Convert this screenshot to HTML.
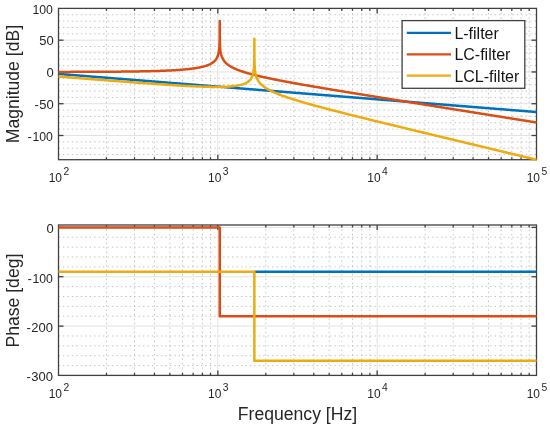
<!DOCTYPE html>
<html><head><meta charset="utf-8"><title>Bode plot</title>
<style>
html,body{margin:0;padding:0;background:#fff;}
body{width:550px;height:428px;overflow:hidden;}
svg text{font-family:"Liberation Sans",sans-serif;fill:#262626;}
.ax{stroke:#404040;stroke-width:1.3;}
.gr{stroke:#e2e2e2;stroke-width:1;}
.mg{stroke:#c2c2c2;stroke-width:1;stroke-dasharray:1.4 3.05;}
</style></head><body>
<svg width="550" height="428" viewBox="0 0 550 428" style="display:block">
<rect width="550" height="428" fill="#fff"/>
<line x1="106.46" y1="8.4" x2="106.46" y2="159.7" class="mg"/>
<line x1="134.52" y1="8.4" x2="134.52" y2="159.7" class="mg"/>
<line x1="154.43" y1="8.4" x2="154.43" y2="159.7" class="mg"/>
<line x1="169.87" y1="8.4" x2="169.87" y2="159.7" class="mg"/>
<line x1="182.49" y1="8.4" x2="182.49" y2="159.7" class="mg"/>
<line x1="193.15" y1="8.4" x2="193.15" y2="159.7" class="mg"/>
<line x1="202.39" y1="8.4" x2="202.39" y2="159.7" class="mg"/>
<line x1="210.54" y1="8.4" x2="210.54" y2="159.7" class="mg"/>
<line x1="265.80" y1="8.4" x2="265.80" y2="159.7" class="mg"/>
<line x1="293.85" y1="8.4" x2="293.85" y2="159.7" class="mg"/>
<line x1="313.76" y1="8.4" x2="313.76" y2="159.7" class="mg"/>
<line x1="329.20" y1="8.4" x2="329.20" y2="159.7" class="mg"/>
<line x1="341.82" y1="8.4" x2="341.82" y2="159.7" class="mg"/>
<line x1="352.49" y1="8.4" x2="352.49" y2="159.7" class="mg"/>
<line x1="361.73" y1="8.4" x2="361.73" y2="159.7" class="mg"/>
<line x1="369.88" y1="8.4" x2="369.88" y2="159.7" class="mg"/>
<line x1="425.13" y1="8.4" x2="425.13" y2="159.7" class="mg"/>
<line x1="453.19" y1="8.4" x2="453.19" y2="159.7" class="mg"/>
<line x1="473.09" y1="8.4" x2="473.09" y2="159.7" class="mg"/>
<line x1="488.54" y1="8.4" x2="488.54" y2="159.7" class="mg"/>
<line x1="501.15" y1="8.4" x2="501.15" y2="159.7" class="mg"/>
<line x1="511.82" y1="8.4" x2="511.82" y2="159.7" class="mg"/>
<line x1="521.06" y1="8.4" x2="521.06" y2="159.7" class="mg"/>
<line x1="529.21" y1="8.4" x2="529.21" y2="159.7" class="mg"/>
<line x1="58.5" y1="154.56" x2="536.5" y2="154.56" class="mg"/>
<line x1="58.5" y1="148.21" x2="536.5" y2="148.21" class="mg"/>
<line x1="58.5" y1="141.85" x2="536.5" y2="141.85" class="mg"/>
<line x1="58.5" y1="129.14" x2="536.5" y2="129.14" class="mg"/>
<line x1="58.5" y1="122.79" x2="536.5" y2="122.79" class="mg"/>
<line x1="58.5" y1="116.44" x2="536.5" y2="116.44" class="mg"/>
<line x1="58.5" y1="110.08" x2="536.5" y2="110.08" class="mg"/>
<line x1="58.5" y1="97.37" x2="536.5" y2="97.37" class="mg"/>
<line x1="58.5" y1="91.02" x2="536.5" y2="91.02" class="mg"/>
<line x1="58.5" y1="84.66" x2="536.5" y2="84.66" class="mg"/>
<line x1="58.5" y1="78.31" x2="536.5" y2="78.31" class="mg"/>
<line x1="58.5" y1="65.59" x2="536.5" y2="65.59" class="mg"/>
<line x1="58.5" y1="59.24" x2="536.5" y2="59.24" class="mg"/>
<line x1="58.5" y1="52.88" x2="536.5" y2="52.88" class="mg"/>
<line x1="58.5" y1="46.53" x2="536.5" y2="46.53" class="mg"/>
<line x1="58.5" y1="33.82" x2="536.5" y2="33.82" class="mg"/>
<line x1="58.5" y1="27.46" x2="536.5" y2="27.46" class="mg"/>
<line x1="58.5" y1="21.11" x2="536.5" y2="21.11" class="mg"/>
<line x1="58.5" y1="14.75" x2="536.5" y2="14.75" class="mg"/>
<line x1="217.83" y1="8.4" x2="217.83" y2="159.7" class="gr"/>
<line x1="377.17" y1="8.4" x2="377.17" y2="159.7" class="gr"/>
<line x1="58.5" y1="40.17" x2="536.5" y2="40.17" class="gr"/>
<line x1="58.5" y1="71.95" x2="536.5" y2="71.95" class="gr"/>
<line x1="58.5" y1="103.72" x2="536.5" y2="103.72" class="gr"/>
<line x1="58.5" y1="135.50" x2="536.5" y2="135.50" class="gr"/>
<rect x="58.5" y="8.4" width="478.0" height="151.29999999999998" fill="none" class="ax"/>
<line x1="106.46" y1="159.7" x2="106.46" y2="157.2" class="ax"/>
<line x1="106.46" y1="8.4" x2="106.46" y2="10.9" class="ax"/>
<line x1="134.52" y1="159.7" x2="134.52" y2="157.2" class="ax"/>
<line x1="134.52" y1="8.4" x2="134.52" y2="10.9" class="ax"/>
<line x1="154.43" y1="159.7" x2="154.43" y2="157.2" class="ax"/>
<line x1="154.43" y1="8.4" x2="154.43" y2="10.9" class="ax"/>
<line x1="169.87" y1="159.7" x2="169.87" y2="157.2" class="ax"/>
<line x1="169.87" y1="8.4" x2="169.87" y2="10.9" class="ax"/>
<line x1="182.49" y1="159.7" x2="182.49" y2="157.2" class="ax"/>
<line x1="182.49" y1="8.4" x2="182.49" y2="10.9" class="ax"/>
<line x1="193.15" y1="159.7" x2="193.15" y2="157.2" class="ax"/>
<line x1="193.15" y1="8.4" x2="193.15" y2="10.9" class="ax"/>
<line x1="202.39" y1="159.7" x2="202.39" y2="157.2" class="ax"/>
<line x1="202.39" y1="8.4" x2="202.39" y2="10.9" class="ax"/>
<line x1="210.54" y1="159.7" x2="210.54" y2="157.2" class="ax"/>
<line x1="210.54" y1="8.4" x2="210.54" y2="10.9" class="ax"/>
<line x1="217.83" y1="159.7" x2="217.83" y2="154.7" class="ax"/>
<line x1="217.83" y1="8.4" x2="217.83" y2="13.4" class="ax"/>
<line x1="265.80" y1="159.7" x2="265.80" y2="157.2" class="ax"/>
<line x1="265.80" y1="8.4" x2="265.80" y2="10.9" class="ax"/>
<line x1="293.85" y1="159.7" x2="293.85" y2="157.2" class="ax"/>
<line x1="293.85" y1="8.4" x2="293.85" y2="10.9" class="ax"/>
<line x1="313.76" y1="159.7" x2="313.76" y2="157.2" class="ax"/>
<line x1="313.76" y1="8.4" x2="313.76" y2="10.9" class="ax"/>
<line x1="329.20" y1="159.7" x2="329.20" y2="157.2" class="ax"/>
<line x1="329.20" y1="8.4" x2="329.20" y2="10.9" class="ax"/>
<line x1="341.82" y1="159.7" x2="341.82" y2="157.2" class="ax"/>
<line x1="341.82" y1="8.4" x2="341.82" y2="10.9" class="ax"/>
<line x1="352.49" y1="159.7" x2="352.49" y2="157.2" class="ax"/>
<line x1="352.49" y1="8.4" x2="352.49" y2="10.9" class="ax"/>
<line x1="361.73" y1="159.7" x2="361.73" y2="157.2" class="ax"/>
<line x1="361.73" y1="8.4" x2="361.73" y2="10.9" class="ax"/>
<line x1="369.88" y1="159.7" x2="369.88" y2="157.2" class="ax"/>
<line x1="369.88" y1="8.4" x2="369.88" y2="10.9" class="ax"/>
<line x1="377.17" y1="159.7" x2="377.17" y2="154.7" class="ax"/>
<line x1="377.17" y1="8.4" x2="377.17" y2="13.4" class="ax"/>
<line x1="425.13" y1="159.7" x2="425.13" y2="157.2" class="ax"/>
<line x1="425.13" y1="8.4" x2="425.13" y2="10.9" class="ax"/>
<line x1="453.19" y1="159.7" x2="453.19" y2="157.2" class="ax"/>
<line x1="453.19" y1="8.4" x2="453.19" y2="10.9" class="ax"/>
<line x1="473.09" y1="159.7" x2="473.09" y2="157.2" class="ax"/>
<line x1="473.09" y1="8.4" x2="473.09" y2="10.9" class="ax"/>
<line x1="488.54" y1="159.7" x2="488.54" y2="157.2" class="ax"/>
<line x1="488.54" y1="8.4" x2="488.54" y2="10.9" class="ax"/>
<line x1="501.15" y1="159.7" x2="501.15" y2="157.2" class="ax"/>
<line x1="501.15" y1="8.4" x2="501.15" y2="10.9" class="ax"/>
<line x1="511.82" y1="159.7" x2="511.82" y2="157.2" class="ax"/>
<line x1="511.82" y1="8.4" x2="511.82" y2="10.9" class="ax"/>
<line x1="521.06" y1="159.7" x2="521.06" y2="157.2" class="ax"/>
<line x1="521.06" y1="8.4" x2="521.06" y2="10.9" class="ax"/>
<line x1="529.21" y1="159.7" x2="529.21" y2="157.2" class="ax"/>
<line x1="529.21" y1="8.4" x2="529.21" y2="10.9" class="ax"/>
<line x1="58.5" y1="40.17" x2="63.5" y2="40.17" class="ax"/>
<line x1="536.5" y1="40.17" x2="531.5" y2="40.17" class="ax"/>
<line x1="58.5" y1="71.95" x2="63.5" y2="71.95" class="ax"/>
<line x1="536.5" y1="71.95" x2="531.5" y2="71.95" class="ax"/>
<line x1="58.5" y1="103.72" x2="63.5" y2="103.72" class="ax"/>
<line x1="536.5" y1="103.72" x2="531.5" y2="103.72" class="ax"/>
<line x1="58.5" y1="135.50" x2="63.5" y2="135.50" class="ax"/>
<line x1="536.5" y1="135.50" x2="531.5" y2="135.50" class="ax"/>
<clipPath id="c1"><rect x="57.9" y="7.800000000000001" width="479.4" height="153.7"/></clipPath>
<g clip-path="url(#c1)">
<polyline points="58.50,73.91 59.18,73.96 59.87,74.02 60.55,74.07 61.24,74.13 61.92,74.18 62.60,74.24 63.29,74.29 63.97,74.35 64.65,74.40 65.34,74.46 66.02,74.51 66.71,74.56 67.39,74.62 68.07,74.67 68.76,74.73 69.44,74.78 70.13,74.84 70.81,74.89 71.49,74.95 72.18,75.00 72.86,75.06 73.54,75.11 74.23,75.16 74.91,75.22 75.60,75.27 76.28,75.33 76.96,75.38 77.65,75.44 78.33,75.49 79.02,75.55 79.70,75.60 80.38,75.66 81.07,75.71 81.75,75.76 82.43,75.82 83.12,75.87 83.80,75.93 84.49,75.98 85.17,76.04 85.85,76.09 86.54,76.15 87.22,76.20 87.90,76.26 88.59,76.31 89.27,76.36 89.96,76.42 90.64,76.47 91.32,76.53 92.01,76.58 92.69,76.64 93.38,76.69 94.06,76.75 94.74,76.80 95.43,76.86 96.11,76.91 96.79,76.96 97.48,77.02 98.16,77.07 98.85,77.13 99.53,77.18 100.21,77.24 100.90,77.29 101.58,77.35 102.27,77.40 102.95,77.46 103.63,77.51 104.32,77.56 105.00,77.62 105.68,77.67 106.37,77.73 107.05,77.78 107.74,77.84 108.42,77.89 109.10,77.95 109.79,78.00 110.47,78.06 111.16,78.11 111.84,78.16 112.52,78.22 113.21,78.27 113.89,78.33 114.57,78.38 115.26,78.44 115.94,78.49 116.63,78.55 117.31,78.60 117.99,78.66 118.68,78.71 119.36,78.76 120.05,78.82 120.73,78.87 121.41,78.93 122.10,78.98 122.78,79.04 123.46,79.09 124.15,79.15 124.83,79.20 125.52,79.26 126.20,79.31 126.88,79.36 127.57,79.42 128.25,79.47 128.93,79.53 129.62,79.58 130.30,79.64 130.99,79.69 131.67,79.75 132.35,79.80 133.04,79.86 133.72,79.91 134.41,79.96 135.09,80.02 135.77,80.07 136.46,80.13 137.14,80.18 137.82,80.24 138.51,80.29 139.19,80.35 139.88,80.40 140.56,80.46 141.24,80.51 141.93,80.56 142.61,80.62 143.30,80.67 143.98,80.73 144.66,80.78 145.35,80.84 146.03,80.89 146.71,80.95 147.40,81.00 148.08,81.06 148.77,81.11 149.45,81.17 150.13,81.22 150.82,81.27 151.50,81.33 152.19,81.38 152.87,81.44 153.55,81.49 154.24,81.55 154.92,81.60 155.60,81.66 156.29,81.71 156.97,81.77 157.66,81.82 158.34,81.87 159.02,81.93 159.71,81.98 160.39,82.04 161.08,82.09 161.76,82.15 162.44,82.20 163.13,82.26 163.81,82.31 164.49,82.37 165.18,82.42 165.86,82.47 166.55,82.53 167.23,82.58 167.91,82.64 168.60,82.69 169.28,82.75 169.96,82.80 170.65,82.86 171.33,82.91 172.02,82.97 172.70,83.02 173.38,83.07 174.07,83.13 174.75,83.18 175.44,83.24 176.12,83.29 176.80,83.35 177.49,83.40 178.17,83.46 178.85,83.51 179.54,83.57 180.22,83.62 180.91,83.67 181.59,83.73 182.27,83.78 182.96,83.84 183.64,83.89 184.33,83.95 185.01,84.00 185.69,84.06 186.38,84.11 187.06,84.17 187.74,84.22 188.43,84.27 189.11,84.33 189.80,84.38 190.48,84.44 191.16,84.49 191.85,84.55 192.53,84.60 193.22,84.66 193.90,84.71 194.58,84.77 195.27,84.82 195.95,84.87 196.63,84.93 197.32,84.98 198.00,85.04 198.69,85.09 199.37,85.15 200.05,85.20 200.74,85.26 201.42,85.31 202.11,85.37 202.79,85.42 203.47,85.47 204.16,85.53 204.84,85.58 205.52,85.64 206.21,85.69 206.89,85.75 207.58,85.80 208.26,85.86 208.94,85.91 209.63,85.97 210.31,86.02 210.99,86.07 211.68,86.13 212.36,86.18 213.05,86.24 213.73,86.29 214.41,86.35 215.10,86.40 215.78,86.46 216.47,86.51 217.15,86.57 217.83,86.62 218.52,86.67 219.20,86.73 219.88,86.78 220.57,86.84 221.25,86.89 221.94,86.95 222.62,87.00 223.30,87.06 223.99,87.11 224.67,87.17 225.36,87.22 226.04,87.27 226.72,87.33 227.41,87.38 228.09,87.44 228.77,87.49 229.46,87.55 230.14,87.60 230.83,87.66 231.51,87.71 232.19,87.77 232.88,87.82 233.56,87.87 234.25,87.93 234.93,87.98 235.61,88.04 236.30,88.09 236.98,88.15 237.66,88.20 238.35,88.26 239.03,88.31 239.72,88.37 240.40,88.42 241.08,88.47 241.77,88.53 242.45,88.58 243.14,88.64 243.82,88.69 244.50,88.75 245.19,88.80 245.87,88.86 246.55,88.91 247.24,88.97 247.92,89.02 248.61,89.07 249.29,89.13 249.97,89.18 250.66,89.24 251.34,89.29 252.03,89.35 252.71,89.40 253.39,89.46 254.08,89.51 254.76,89.57 255.44,89.62 256.13,89.67 256.81,89.73 257.50,89.78 258.18,89.84 258.86,89.89 259.55,89.95 260.23,90.00 260.91,90.06 261.60,90.11 262.28,90.17 262.97,90.22 263.65,90.27 264.33,90.33 265.02,90.38 265.70,90.44 266.39,90.49 267.07,90.55 267.75,90.60 268.44,90.66 269.12,90.71 269.80,90.77 270.49,90.82 271.17,90.87 271.86,90.93 272.54,90.98 273.22,91.04 273.91,91.09 274.59,91.15 275.28,91.20 275.96,91.26 276.64,91.31 277.33,91.37 278.01,91.42 278.69,91.47 279.38,91.53 280.06,91.58 280.75,91.64 281.43,91.69 282.11,91.75 282.80,91.80 283.48,91.86 284.17,91.91 284.85,91.97 285.53,92.02 286.22,92.07 286.90,92.13 287.58,92.18 288.27,92.24 288.95,92.29 289.64,92.35 290.32,92.40 291.00,92.46 291.69,92.51 292.37,92.57 293.06,92.62 293.74,92.67 294.42,92.73 295.11,92.78 295.79,92.84 296.47,92.89 297.16,92.95 297.84,93.00 298.53,93.06 299.21,93.11 299.89,93.17 300.58,93.22 301.26,93.27 301.94,93.33 302.63,93.38 303.31,93.44 304.00,93.49 304.68,93.55 305.36,93.60 306.05,93.66 306.73,93.71 307.42,93.77 308.10,93.82 308.78,93.88 309.47,93.93 310.15,93.98 310.83,94.04 311.52,94.09 312.20,94.15 312.89,94.20 313.57,94.26 314.25,94.31 314.94,94.37 315.62,94.42 316.31,94.48 316.99,94.53 317.67,94.58 318.36,94.64 319.04,94.69 319.72,94.75 320.41,94.80 321.09,94.86 321.78,94.91 322.46,94.97 323.14,95.02 323.83,95.08 324.51,95.13 325.20,95.18 325.88,95.24 326.56,95.29 327.25,95.35 327.93,95.40 328.61,95.46 329.30,95.51 329.98,95.57 330.67,95.62 331.35,95.68 332.03,95.73 332.72,95.78 333.40,95.84 334.09,95.89 334.77,95.95 335.45,96.00 336.14,96.06 336.82,96.11 337.50,96.17 338.19,96.22 338.87,96.28 339.56,96.33 340.24,96.38 340.92,96.44 341.61,96.49 342.29,96.55 342.97,96.60 343.66,96.66 344.34,96.71 345.03,96.77 345.71,96.82 346.39,96.88 347.08,96.93 347.76,96.98 348.45,97.04 349.13,97.09 349.81,97.15 350.50,97.20 351.18,97.26 351.86,97.31 352.55,97.37 353.23,97.42 353.92,97.48 354.60,97.53 355.28,97.58 355.97,97.64 356.65,97.69 357.34,97.75 358.02,97.80 358.70,97.86 359.39,97.91 360.07,97.97 360.75,98.02 361.44,98.08 362.12,98.13 362.81,98.18 363.49,98.24 364.17,98.29 364.86,98.35 365.54,98.40 366.23,98.46 366.91,98.51 367.59,98.57 368.28,98.62 368.96,98.68 369.64,98.73 370.33,98.78 371.01,98.84 371.70,98.89 372.38,98.95 373.06,99.00 373.75,99.06 374.43,99.11 375.12,99.17 375.80,99.22 376.48,99.28 377.17,99.33 377.85,99.38 378.53,99.44 379.22,99.49 379.90,99.55 380.59,99.60 381.27,99.66 381.95,99.71 382.64,99.77 383.32,99.82 384.01,99.88 384.69,99.93 385.37,99.98 386.06,100.04 386.74,100.09 387.42,100.15 388.11,100.20 388.79,100.26 389.48,100.31 390.16,100.37 390.84,100.42 391.53,100.48 392.21,100.53 392.89,100.58 393.58,100.64 394.26,100.69 394.95,100.75 395.63,100.80 396.31,100.86 397.00,100.91 397.68,100.97 398.37,101.02 399.05,101.08 399.73,101.13 400.42,101.18 401.10,101.24 401.78,101.29 402.47,101.35 403.15,101.40 403.84,101.46 404.52,101.51 405.20,101.57 405.89,101.62 406.57,101.68 407.26,101.73 407.94,101.78 408.62,101.84 409.31,101.89 409.99,101.95 410.67,102.00 411.36,102.06 412.04,102.11 412.73,102.17 413.41,102.22 414.09,102.28 414.78,102.33 415.46,102.38 416.15,102.44 416.83,102.49 417.51,102.55 418.20,102.60 418.88,102.66 419.56,102.71 420.25,102.77 420.93,102.82 421.62,102.88 422.30,102.93 422.98,102.98 423.67,103.04 424.35,103.09 425.04,103.15 425.72,103.20 426.40,103.26 427.09,103.31 427.77,103.37 428.45,103.42 429.14,103.48 429.82,103.53 430.51,103.58 431.19,103.64 431.87,103.69 432.56,103.75 433.24,103.80 433.92,103.86 434.61,103.91 435.29,103.97 435.98,104.02 436.66,104.08 437.34,104.13 438.03,104.18 438.71,104.24 439.40,104.29 440.08,104.35 440.76,104.40 441.45,104.46 442.13,104.51 442.81,104.57 443.50,104.62 444.18,104.68 444.87,104.73 445.55,104.78 446.23,104.84 446.92,104.89 447.60,104.95 448.29,105.00 448.97,105.06 449.65,105.11 450.34,105.17 451.02,105.22 451.70,105.28 452.39,105.33 453.07,105.38 453.76,105.44 454.44,105.49 455.12,105.55 455.81,105.60 456.49,105.66 457.18,105.71 457.86,105.77 458.54,105.82 459.23,105.88 459.91,105.93 460.59,105.98 461.28,106.04 461.96,106.09 462.65,106.15 463.33,106.20 464.01,106.26 464.70,106.31 465.38,106.37 466.07,106.42 466.75,106.48 467.43,106.53 468.12,106.59 468.80,106.64 469.48,106.69 470.17,106.75 470.85,106.80 471.54,106.86 472.22,106.91 472.90,106.97 473.59,107.02 474.27,107.08 474.95,107.13 475.64,107.19 476.32,107.24 477.01,107.29 477.69,107.35 478.37,107.40 479.06,107.46 479.74,107.51 480.43,107.57 481.11,107.62 481.79,107.68 482.48,107.73 483.16,107.79 483.84,107.84 484.53,107.89 485.21,107.95 485.90,108.00 486.58,108.06 487.26,108.11 487.95,108.17 488.63,108.22 489.32,108.28 490.00,108.33 490.68,108.39 491.37,108.44 492.05,108.49 492.73,108.55 493.42,108.60 494.10,108.66 494.79,108.71 495.47,108.77 496.15,108.82 496.84,108.88 497.52,108.93 498.21,108.99 498.89,109.04 499.57,109.09 500.26,109.15 500.94,109.20 501.62,109.26 502.31,109.31 502.99,109.37 503.68,109.42 504.36,109.48 505.04,109.53 505.73,109.59 506.41,109.64 507.10,109.69 507.78,109.75 508.46,109.80 509.15,109.86 509.83,109.91 510.51,109.97 511.20,110.02 511.88,110.08 512.57,110.13 513.25,110.19 513.93,110.24 514.62,110.29 515.30,110.35 515.98,110.40 516.67,110.46 517.35,110.51 518.04,110.57 518.72,110.62 519.40,110.68 520.09,110.73 520.77,110.79 521.46,110.84 522.14,110.89 522.82,110.95 523.51,111.00 524.19,111.06 524.87,111.11 525.56,111.17 526.24,111.22 526.93,111.28 527.61,111.33 528.29,111.39 528.98,111.44 529.66,111.49 530.35,111.55 531.03,111.60 531.71,111.66 532.40,111.71 533.08,111.77 533.76,111.82 534.45,111.88 535.13,111.93 535.82,111.99 536.50,112.04" fill="none" stroke="#0072BD" stroke-width="2.5" stroke-linejoin="round"/>
<polyline points="58.50,71.90 59.18,71.90 59.87,71.90 60.55,71.89 61.24,71.89 61.92,71.89 62.60,71.89 63.29,71.89 63.97,71.89 64.65,71.89 65.34,71.89 66.02,71.88 66.71,71.88 67.39,71.88 68.07,71.88 68.76,71.88 69.44,71.88 70.13,71.88 70.81,71.87 71.49,71.87 72.18,71.87 72.86,71.87 73.54,71.87 74.23,71.87 74.91,71.87 75.60,71.86 76.28,71.86 76.96,71.86 77.65,71.86 78.33,71.86 79.02,71.85 79.70,71.85 80.38,71.85 81.07,71.85 81.75,71.85 82.43,71.84 83.12,71.84 83.80,71.84 84.49,71.84 85.17,71.84 85.85,71.83 86.54,71.83 87.22,71.83 87.90,71.83 88.59,71.82 89.27,71.82 89.96,71.82 90.64,71.82 91.32,71.81 92.01,71.81 92.69,71.81 93.38,71.80 94.06,71.80 94.74,71.80 95.43,71.80 96.11,71.79 96.79,71.79 97.48,71.79 98.16,71.78 98.85,71.78 99.53,71.78 100.21,71.77 100.90,71.77 101.58,71.77 102.27,71.76 102.95,71.76 103.63,71.75 104.32,71.75 105.00,71.75 105.68,71.74 106.37,71.74 107.05,71.73 107.74,71.73 108.42,71.72 109.10,71.72 109.79,71.72 110.47,71.71 111.16,71.71 111.84,71.70 112.52,71.70 113.21,71.69 113.89,71.68 114.57,71.68 115.26,71.67 115.94,71.67 116.63,71.66 117.31,71.66 117.99,71.65 118.68,71.64 119.36,71.64 120.05,71.63 120.73,71.63 121.41,71.62 122.10,71.61 122.78,71.60 123.46,71.60 124.15,71.59 124.83,71.58 125.52,71.58 126.20,71.57 126.88,71.56 127.57,71.55 128.25,71.54 128.93,71.53 129.62,71.53 130.30,71.52 130.99,71.51 131.67,71.50 132.35,71.49 133.04,71.48 133.72,71.47 134.41,71.46 135.09,71.45 135.77,71.44 136.46,71.43 137.14,71.42 137.82,71.41 138.51,71.40 139.19,71.38 139.88,71.37 140.56,71.36 141.24,71.35 141.93,71.33 142.61,71.32 143.30,71.31 143.98,71.29 144.66,71.28 145.35,71.27 146.03,71.25 146.71,71.24 147.40,71.22 148.08,71.21 148.77,71.19 149.45,71.17 150.13,71.16 150.82,71.14 151.50,71.12 152.19,71.11 152.87,71.09 153.55,71.07 154.24,71.05 154.92,71.03 155.60,71.01 156.29,70.99 156.97,70.97 157.66,70.95 158.34,70.92 159.02,70.90 159.71,70.88 160.39,70.86 161.08,70.83 161.76,70.81 162.44,70.78 163.13,70.75 163.81,70.73 164.49,70.70 165.18,70.67 165.86,70.64 166.55,70.61 167.23,70.58 167.91,70.55 168.60,70.52 169.28,70.49 169.96,70.46 170.65,70.42 171.33,70.39 172.02,70.35 172.70,70.31 173.38,70.27 174.07,70.23 174.75,70.19 175.44,70.15 176.12,70.11 176.80,70.07 177.49,70.02 178.17,69.98 178.85,69.93 179.54,69.88 180.22,69.83 180.91,69.78 181.59,69.72 182.27,69.67 182.96,69.61 183.64,69.55 184.33,69.49 185.01,69.43 185.69,69.37 186.38,69.30 187.06,69.23 187.74,69.16 188.43,69.09 189.11,69.01 189.80,68.94 190.48,68.85 191.16,68.77 191.85,68.68 192.53,68.60 193.22,68.50 193.90,68.41 194.58,68.31 195.27,68.20 195.95,68.09 196.63,67.98 197.32,67.86 198.00,67.74 198.69,67.61 199.37,67.48 200.05,67.34 200.74,67.20 201.42,67.04 202.11,66.88 202.79,66.72 203.47,66.54 204.16,66.35 204.84,66.15 205.52,65.95 206.21,65.73 206.89,65.49 207.58,65.24 208.26,64.97 208.94,64.68 209.63,64.38 210.31,64.04 210.99,63.68 211.68,63.28 212.36,62.84 213.05,62.36 213.73,61.82 214.41,61.21 215.10,60.50 215.78,59.68 216.47,58.68 217.15,57.45 217.83,55.81 218.52,53.42 219.05,50.33 219.20,48.98 219.40,46.52 219.61,41.47 219.68,37.64 219.74,21.11 219.81,37.65 219.88,41.48 219.88,41.57 220.09,46.54 220.43,50.38 220.57,51.39 221.25,54.78 221.94,56.90 222.62,58.45 223.30,59.68 223.99,60.71 224.67,61.59 225.36,62.36 226.04,63.05 226.72,63.68 227.41,64.25 228.09,64.78 228.77,65.27 229.46,65.73 230.14,66.16 230.83,66.57 231.51,66.96 232.19,67.33 232.88,67.68 233.56,68.02 234.25,68.35 234.93,68.66 235.61,68.96 236.30,69.25 236.98,69.54 237.66,69.81 238.35,70.08 239.03,70.33 239.72,70.59 240.40,70.83 241.08,71.07 241.77,71.31 242.45,71.54 243.14,71.76 243.82,71.98 244.50,72.20 245.19,72.41 245.87,72.61 246.55,72.82 247.24,73.02 247.92,73.22 248.61,73.41 249.29,73.60 249.97,73.79 250.66,73.98 251.34,74.16 252.03,74.34 252.71,74.52 253.39,74.70 254.08,74.87 254.76,75.04 255.44,75.21 256.13,75.38 256.81,75.55 257.50,75.71 258.18,75.88 258.86,76.04 259.55,76.20 260.23,76.36 260.91,76.52 261.60,76.67 262.28,76.83 262.97,76.98 263.65,77.13 264.33,77.28 265.02,77.43 265.70,77.58 266.39,77.73 267.07,77.88 267.75,78.02 268.44,78.17 269.12,78.31 269.80,78.46 270.49,78.60 271.17,78.74 271.86,78.88 272.54,79.02 273.22,79.16 273.91,79.30 274.59,79.43 275.28,79.57 275.96,79.71 276.64,79.84 277.33,79.98 278.01,80.11 278.69,80.25 279.38,80.38 280.06,80.51 280.75,80.64 281.43,80.78 282.11,80.91 282.80,81.04 283.48,81.17 284.17,81.30 284.85,81.42 285.53,81.55 286.22,81.68 286.90,81.81 287.58,81.94 288.27,82.06 288.95,82.19 289.64,82.31 290.32,82.44 291.00,82.57 291.69,82.69 292.37,82.82 293.06,82.94 293.74,83.06 294.42,83.19 295.11,83.31 295.79,83.43 296.47,83.56 297.16,83.68 297.84,83.80 298.53,83.92 299.21,84.04 299.89,84.16 300.58,84.28 301.26,84.41 301.94,84.53 302.63,84.65 303.31,84.77 304.00,84.89 304.68,85.01 305.36,85.12 306.05,85.24 306.73,85.36 307.42,85.48 308.10,85.60 308.78,85.72 309.47,85.84 310.15,85.95 310.83,86.07 311.52,86.19 312.20,86.31 312.89,86.42 313.57,86.54 314.25,86.66 314.94,86.77 315.62,86.89 316.31,87.01 316.99,87.12 317.67,87.24 318.36,87.35 319.04,87.47 319.72,87.59 320.41,87.70 321.09,87.82 321.78,87.93 322.46,88.05 323.14,88.16 323.83,88.28 324.51,88.39 325.20,88.51 325.88,88.62 326.56,88.73 327.25,88.85 327.93,88.96 328.61,89.08 329.30,89.19 329.98,89.30 330.67,89.42 331.35,89.53 332.03,89.65 332.72,89.76 333.40,89.87 334.09,89.99 334.77,90.10 335.45,90.21 336.14,90.32 336.82,90.44 337.50,90.55 338.19,90.66 338.87,90.78 339.56,90.89 340.24,91.00 340.92,91.11 341.61,91.23 342.29,91.34 342.97,91.45 343.66,91.56 344.34,91.68 345.03,91.79 345.71,91.90 346.39,92.01 347.08,92.12 347.76,92.24 348.45,92.35 349.13,92.46 349.81,92.57 350.50,92.68 351.18,92.79 351.86,92.91 352.55,93.02 353.23,93.13 353.92,93.24 354.60,93.35 355.28,93.46 355.97,93.57 356.65,93.69 357.34,93.80 358.02,93.91 358.70,94.02 359.39,94.13 360.07,94.24 360.75,94.35 361.44,94.46 362.12,94.57 362.81,94.69 363.49,94.80 364.17,94.91 364.86,95.02 365.54,95.13 366.23,95.24 366.91,95.35 367.59,95.46 368.28,95.57 368.96,95.68 369.64,95.79 370.33,95.90 371.01,96.01 371.70,96.12 372.38,96.23 373.06,96.34 373.75,96.45 374.43,96.57 375.12,96.68 375.80,96.79 376.48,96.90 377.17,97.01 377.85,97.12 378.53,97.23 379.22,97.34 379.90,97.45 380.59,97.56 381.27,97.67 381.95,97.78 382.64,97.89 383.32,98.00 384.01,98.11 384.69,98.22 385.37,98.33 386.06,98.44 386.74,98.55 387.42,98.66 388.11,98.77 388.79,98.88 389.48,98.99 390.16,99.10 390.84,99.21 391.53,99.32 392.21,99.43 392.89,99.54 393.58,99.65 394.26,99.76 394.95,99.87 395.63,99.98 396.31,100.09 397.00,100.20 397.68,100.31 398.37,100.42 399.05,100.53 399.73,100.63 400.42,100.74 401.10,100.85 401.78,100.96 402.47,101.07 403.15,101.18 403.84,101.29 404.52,101.40 405.20,101.51 405.89,101.62 406.57,101.73 407.26,101.84 407.94,101.95 408.62,102.06 409.31,102.17 409.99,102.28 410.67,102.39 411.36,102.50 412.04,102.61 412.73,102.72 413.41,102.83 414.09,102.94 414.78,103.05 415.46,103.16 416.15,103.26 416.83,103.37 417.51,103.48 418.20,103.59 418.88,103.70 419.56,103.81 420.25,103.92 420.93,104.03 421.62,104.14 422.30,104.25 422.98,104.36 423.67,104.47 424.35,104.58 425.04,104.69 425.72,104.80 426.40,104.91 427.09,105.02 427.77,105.12 428.45,105.23 429.14,105.34 429.82,105.45 430.51,105.56 431.19,105.67 431.87,105.78 432.56,105.89 433.24,106.00 433.92,106.11 434.61,106.22 435.29,106.33 435.98,106.44 436.66,106.55 437.34,106.66 438.03,106.76 438.71,106.87 439.40,106.98 440.08,107.09 440.76,107.20 441.45,107.31 442.13,107.42 442.81,107.53 443.50,107.64 444.18,107.75 444.87,107.86 445.55,107.97 446.23,108.08 446.92,108.19 447.60,108.29 448.29,108.40 448.97,108.51 449.65,108.62 450.34,108.73 451.02,108.84 451.70,108.95 452.39,109.06 453.07,109.17 453.76,109.28 454.44,109.39 455.12,109.50 455.81,109.61 456.49,109.71 457.18,109.82 457.86,109.93 458.54,110.04 459.23,110.15 459.91,110.26 460.59,110.37 461.28,110.48 461.96,110.59 462.65,110.70 463.33,110.81 464.01,110.92 464.70,111.03 465.38,111.13 466.07,111.24 466.75,111.35 467.43,111.46 468.12,111.57 468.80,111.68 469.48,111.79 470.17,111.90 470.85,112.01 471.54,112.12 472.22,112.23 472.90,112.34 473.59,112.44 474.27,112.55 474.95,112.66 475.64,112.77 476.32,112.88 477.01,112.99 477.69,113.10 478.37,113.21 479.06,113.32 479.74,113.43 480.43,113.54 481.11,113.65 481.79,113.75 482.48,113.86 483.16,113.97 483.84,114.08 484.53,114.19 485.21,114.30 485.90,114.41 486.58,114.52 487.26,114.63 487.95,114.74 488.63,114.85 489.32,114.96 490.00,115.06 490.68,115.17 491.37,115.28 492.05,115.39 492.73,115.50 493.42,115.61 494.10,115.72 494.79,115.83 495.47,115.94 496.15,116.05 496.84,116.16 497.52,116.26 498.21,116.37 498.89,116.48 499.57,116.59 500.26,116.70 500.94,116.81 501.62,116.92 502.31,117.03 502.99,117.14 503.68,117.25 504.36,117.36 505.04,117.47 505.73,117.57 506.41,117.68 507.10,117.79 507.78,117.90 508.46,118.01 509.15,118.12 509.83,118.23 510.51,118.34 511.20,118.45 511.88,118.56 512.57,118.67 513.25,118.77 513.93,118.88 514.62,118.99 515.30,119.10 515.98,119.21 516.67,119.32 517.35,119.43 518.04,119.54 518.72,119.65 519.40,119.76 520.09,119.87 520.77,119.97 521.46,120.08 522.14,120.19 522.82,120.30 523.51,120.41 524.19,120.52 524.87,120.63 525.56,120.74 526.24,120.85 526.93,120.96 527.61,121.07 528.29,121.18 528.98,121.28 529.66,121.39 530.35,121.50 531.03,121.61 531.71,121.72 532.40,121.83 533.08,121.94 533.76,122.05 534.45,122.16 535.13,122.27 535.82,122.38 536.50,122.48" fill="none" stroke="#D94E14" stroke-width="2.5" stroke-linejoin="round"/>
<polyline points="58.50,76.55 59.18,76.60 59.87,76.66 60.55,76.71 61.24,76.77 61.92,76.82 62.60,76.87 63.29,76.93 63.97,76.98 64.65,77.04 65.34,77.09 66.02,77.15 66.71,77.20 67.39,77.25 68.07,77.31 68.76,77.36 69.44,77.42 70.13,77.47 70.81,77.52 71.49,77.58 72.18,77.63 72.86,77.69 73.54,77.74 74.23,77.79 74.91,77.85 75.60,77.90 76.28,77.96 76.96,78.01 77.65,78.06 78.33,78.12 79.02,78.17 79.70,78.22 80.38,78.28 81.07,78.33 81.75,78.39 82.43,78.44 83.12,78.49 83.80,78.55 84.49,78.60 85.17,78.66 85.85,78.71 86.54,78.76 87.22,78.82 87.90,78.87 88.59,78.92 89.27,78.98 89.96,79.03 90.64,79.08 91.32,79.14 92.01,79.19 92.69,79.24 93.38,79.30 94.06,79.35 94.74,79.41 95.43,79.46 96.11,79.51 96.79,79.57 97.48,79.62 98.16,79.67 98.85,79.73 99.53,79.78 100.21,79.83 100.90,79.89 101.58,79.94 102.27,79.99 102.95,80.05 103.63,80.10 104.32,80.15 105.00,80.20 105.68,80.26 106.37,80.31 107.05,80.36 107.74,80.42 108.42,80.47 109.10,80.52 109.79,80.58 110.47,80.63 111.16,80.68 111.84,80.73 112.52,80.79 113.21,80.84 113.89,80.89 114.57,80.94 115.26,81.00 115.94,81.05 116.63,81.10 117.31,81.15 117.99,81.21 118.68,81.26 119.36,81.31 120.05,81.36 120.73,81.42 121.41,81.47 122.10,81.52 122.78,81.57 123.46,81.62 124.15,81.68 124.83,81.73 125.52,81.78 126.20,81.83 126.88,81.88 127.57,81.94 128.25,81.99 128.93,82.04 129.62,82.09 130.30,82.14 130.99,82.19 131.67,82.24 132.35,82.30 133.04,82.35 133.72,82.40 134.41,82.45 135.09,82.50 135.77,82.55 136.46,82.60 137.14,82.65 137.82,82.70 138.51,82.75 139.19,82.80 139.88,82.86 140.56,82.91 141.24,82.96 141.93,83.01 142.61,83.06 143.30,83.11 143.98,83.16 144.66,83.21 145.35,83.26 146.03,83.31 146.71,83.35 147.40,83.40 148.08,83.45 148.77,83.50 149.45,83.55 150.13,83.60 150.82,83.65 151.50,83.70 152.19,83.75 152.87,83.80 153.55,83.84 154.24,83.89 154.92,83.94 155.60,83.99 156.29,84.04 156.97,84.08 157.66,84.13 158.34,84.18 159.02,84.23 159.71,84.27 160.39,84.32 161.08,84.37 161.76,84.41 162.44,84.46 163.13,84.51 163.81,84.55 164.49,84.60 165.18,84.64 165.86,84.69 166.55,84.73 167.23,84.78 167.91,84.82 168.60,84.87 169.28,84.91 169.96,84.96 170.65,85.00 171.33,85.04 172.02,85.09 172.70,85.13 173.38,85.17 174.07,85.22 174.75,85.26 175.44,85.30 176.12,85.34 176.80,85.39 177.49,85.43 178.17,85.47 178.85,85.51 179.54,85.55 180.22,85.59 180.91,85.63 181.59,85.67 182.27,85.71 182.96,85.75 183.64,85.79 184.33,85.82 185.01,85.86 185.69,85.90 186.38,85.94 187.06,85.97 187.74,86.01 188.43,86.04 189.11,86.08 189.80,86.11 190.48,86.15 191.16,86.18 191.85,86.22 192.53,86.25 193.22,86.28 193.90,86.31 194.58,86.34 195.27,86.37 195.95,86.41 196.63,86.43 197.32,86.46 198.00,86.49 198.69,86.52 199.37,86.55 200.05,86.57 200.74,86.60 201.42,86.62 202.11,86.65 202.79,86.67 203.47,86.69 204.16,86.71 204.84,86.73 205.52,86.75 206.21,86.77 206.89,86.79 207.58,86.81 208.26,86.82 208.94,86.84 209.63,86.85 210.31,86.87 210.99,86.88 211.68,86.89 212.36,86.90 213.05,86.90 213.73,86.91 214.41,86.92 215.10,86.92 215.78,86.92 216.47,86.92 217.15,86.92 217.83,86.92 218.52,86.91 219.20,86.91 219.88,86.90 220.57,86.89 221.25,86.88 221.94,86.86 222.62,86.84 223.30,86.82 223.99,86.80 224.67,86.78 225.36,86.75 226.04,86.72 226.72,86.69 227.41,86.65 228.09,86.61 228.77,86.57 229.46,86.52 230.14,86.47 230.83,86.42 231.51,86.36 232.19,86.29 232.88,86.22 233.56,86.15 234.25,86.07 234.93,85.98 235.61,85.88 236.30,85.78 236.98,85.67 237.66,85.56 238.35,85.43 239.03,85.30 239.72,85.15 240.40,84.99 241.08,84.82 241.77,84.63 242.45,84.43 243.14,84.21 243.82,83.97 244.50,83.70 245.19,83.41 245.87,83.09 246.55,82.73 247.24,82.33 247.92,81.88 248.61,81.37 249.29,80.78 249.97,80.08 250.66,79.25 251.34,78.23 252.03,76.91 252.71,75.10 253.39,72.22 253.65,70.51 254.00,66.73 254.08,65.38 254.21,61.70 254.28,57.88 254.35,38.84 254.42,57.90 254.49,61.73 254.69,66.81 254.76,67.81 255.04,70.68 255.44,73.31 256.13,76.10 256.81,78.00 257.50,79.46 258.18,80.66 258.86,81.68 259.55,82.57 260.23,83.36 260.91,84.08 261.60,84.73 262.28,85.34 262.97,85.91 263.65,86.44 264.33,86.95 265.02,87.42 265.70,87.88 266.39,88.31 267.07,88.73 267.75,89.13 268.44,89.52 269.12,89.89 269.80,90.26 270.49,90.61 271.17,90.95 271.86,91.28 272.54,91.61 273.22,91.93 273.91,92.24 274.59,92.54 275.28,92.84 275.96,93.13 276.64,93.42 277.33,93.70 278.01,93.98 278.69,94.25 279.38,94.52 280.06,94.78 280.75,95.04 281.43,95.30 282.11,95.55 282.80,95.81 283.48,96.05 284.17,96.30 284.85,96.54 285.53,96.78 286.22,97.02 286.90,97.25 287.58,97.48 288.27,97.71 288.95,97.94 289.64,98.17 290.32,98.39 291.00,98.61 291.69,98.84 292.37,99.05 293.06,99.27 293.74,99.49 294.42,99.70 295.11,99.91 295.79,100.13 296.47,100.34 297.16,100.55 297.84,100.75 298.53,100.96 299.21,101.16 299.89,101.37 300.58,101.57 301.26,101.77 301.94,101.97 302.63,102.17 303.31,102.37 304.00,102.57 304.68,102.77 305.36,102.97 306.05,103.16 306.73,103.36 307.42,103.55 308.10,103.74 308.78,103.94 309.47,104.13 310.15,104.32 310.83,104.51 311.52,104.70 312.20,104.89 312.89,105.08 313.57,105.27 314.25,105.45 314.94,105.64 315.62,105.83 316.31,106.01 316.99,106.20 317.67,106.38 318.36,106.57 319.04,106.75 319.72,106.93 320.41,107.12 321.09,107.30 321.78,107.48 322.46,107.66 323.14,107.84 323.83,108.02 324.51,108.20 325.20,108.38 325.88,108.56 326.56,108.74 327.25,108.92 327.93,109.10 328.61,109.28 329.30,109.46 329.98,109.63 330.67,109.81 331.35,109.99 332.03,110.17 332.72,110.34 333.40,110.52 334.09,110.69 334.77,110.87 335.45,111.04 336.14,111.22 336.82,111.39 337.50,111.57 338.19,111.74 338.87,111.92 339.56,112.09 340.24,112.27 340.92,112.44 341.61,112.61 342.29,112.79 342.97,112.96 343.66,113.13 344.34,113.30 345.03,113.48 345.71,113.65 346.39,113.82 347.08,113.99 347.76,114.16 348.45,114.33 349.13,114.51 349.81,114.68 350.50,114.85 351.18,115.02 351.86,115.19 352.55,115.36 353.23,115.53 353.92,115.70 354.60,115.87 355.28,116.04 355.97,116.21 356.65,116.38 357.34,116.55 358.02,116.72 358.70,116.89 359.39,117.06 360.07,117.23 360.75,117.40 361.44,117.56 362.12,117.73 362.81,117.90 363.49,118.07 364.17,118.24 364.86,118.41 365.54,118.58 366.23,118.74 366.91,118.91 367.59,119.08 368.28,119.25 368.96,119.42 369.64,119.58 370.33,119.75 371.01,119.92 371.70,120.09 372.38,120.25 373.06,120.42 373.75,120.59 374.43,120.75 375.12,120.92 375.80,121.09 376.48,121.26 377.17,121.42 377.85,121.59 378.53,121.76 379.22,121.92 379.90,122.09 380.59,122.26 381.27,122.42 381.95,122.59 382.64,122.76 383.32,122.92 384.01,123.09 384.69,123.25 385.37,123.42 386.06,123.59 386.74,123.75 387.42,123.92 388.11,124.09 388.79,124.25 389.48,124.42 390.16,124.58 390.84,124.75 391.53,124.91 392.21,125.08 392.89,125.25 393.58,125.41 394.26,125.58 394.95,125.74 395.63,125.91 396.31,126.07 397.00,126.24 397.68,126.40 398.37,126.57 399.05,126.74 399.73,126.90 400.42,127.07 401.10,127.23 401.78,127.40 402.47,127.56 403.15,127.73 403.84,127.89 404.52,128.06 405.20,128.22 405.89,128.39 406.57,128.55 407.26,128.72 407.94,128.88 408.62,129.05 409.31,129.21 409.99,129.38 410.67,129.54 411.36,129.71 412.04,129.87 412.73,130.04 413.41,130.20 414.09,130.37 414.78,130.53 415.46,130.70 416.15,130.86 416.83,131.02 417.51,131.19 418.20,131.35 418.88,131.52 419.56,131.68 420.25,131.85 420.93,132.01 421.62,132.18 422.30,132.34 422.98,132.51 423.67,132.67 424.35,132.83 425.04,133.00 425.72,133.16 426.40,133.33 427.09,133.49 427.77,133.66 428.45,133.82 429.14,133.99 429.82,134.15 430.51,134.31 431.19,134.48 431.87,134.64 432.56,134.81 433.24,134.97 433.92,135.14 434.61,135.30 435.29,135.46 435.98,135.63 436.66,135.79 437.34,135.96 438.03,136.12 438.71,136.29 439.40,136.45 440.08,136.61 440.76,136.78 441.45,136.94 442.13,137.11 442.81,137.27 443.50,137.43 444.18,137.60 444.87,137.76 445.55,137.93 446.23,138.09 446.92,138.25 447.60,138.42 448.29,138.58 448.97,138.75 449.65,138.91 450.34,139.07 451.02,139.24 451.70,139.40 452.39,139.57 453.07,139.73 453.76,139.90 454.44,140.06 455.12,140.22 455.81,140.39 456.49,140.55 457.18,140.71 457.86,140.88 458.54,141.04 459.23,141.21 459.91,141.37 460.59,141.53 461.28,141.70 461.96,141.86 462.65,142.03 463.33,142.19 464.01,142.35 464.70,142.52 465.38,142.68 466.07,142.85 466.75,143.01 467.43,143.17 468.12,143.34 468.80,143.50 469.48,143.67 470.17,143.83 470.85,143.99 471.54,144.16 472.22,144.32 472.90,144.48 473.59,144.65 474.27,144.81 474.95,144.98 475.64,145.14 476.32,145.30 477.01,145.47 477.69,145.63 478.37,145.80 479.06,145.96 479.74,146.12 480.43,146.29 481.11,146.45 481.79,146.61 482.48,146.78 483.16,146.94 483.84,147.11 484.53,147.27 485.21,147.43 485.90,147.60 486.58,147.76 487.26,147.92 487.95,148.09 488.63,148.25 489.32,148.42 490.00,148.58 490.68,148.74 491.37,148.91 492.05,149.07 492.73,149.23 493.42,149.40 494.10,149.56 494.79,149.73 495.47,149.89 496.15,150.05 496.84,150.22 497.52,150.38 498.21,150.54 498.89,150.71 499.57,150.87 500.26,151.04 500.94,151.20 501.62,151.36 502.31,151.53 502.99,151.69 503.68,151.85 504.36,152.02 505.04,152.18 505.73,152.35 506.41,152.51 507.10,152.67 507.78,152.84 508.46,153.00 509.15,153.16 509.83,153.33 510.51,153.49 511.20,153.66 511.88,153.82 512.57,153.98 513.25,154.15 513.93,154.31 514.62,154.47 515.30,154.64 515.98,154.80 516.67,154.97 517.35,155.13 518.04,155.29 518.72,155.46 519.40,155.62 520.09,155.78 520.77,155.95 521.46,156.11 522.14,156.27 522.82,156.44 523.51,156.60 524.19,156.77 524.87,156.93 525.56,157.09 526.24,157.26 526.93,157.42 527.61,157.58 528.29,157.75 528.98,157.91 529.66,158.08 530.35,158.24 531.03,158.40 531.71,158.57 532.40,158.73 533.08,158.89 533.76,159.06 534.45,159.22 535.13,159.38 535.82,159.55 536.50,159.71" fill="none" stroke="#EEAB10" stroke-width="2.5" stroke-linejoin="round"/>
</g>
<line x1="106.46" y1="225.0" x2="106.46" y2="375.4" class="mg"/>
<line x1="134.52" y1="225.0" x2="134.52" y2="375.4" class="mg"/>
<line x1="154.43" y1="225.0" x2="154.43" y2="375.4" class="mg"/>
<line x1="169.87" y1="225.0" x2="169.87" y2="375.4" class="mg"/>
<line x1="182.49" y1="225.0" x2="182.49" y2="375.4" class="mg"/>
<line x1="193.15" y1="225.0" x2="193.15" y2="375.4" class="mg"/>
<line x1="202.39" y1="225.0" x2="202.39" y2="375.4" class="mg"/>
<line x1="210.54" y1="225.0" x2="210.54" y2="375.4" class="mg"/>
<line x1="265.80" y1="225.0" x2="265.80" y2="375.4" class="mg"/>
<line x1="293.85" y1="225.0" x2="293.85" y2="375.4" class="mg"/>
<line x1="313.76" y1="225.0" x2="313.76" y2="375.4" class="mg"/>
<line x1="329.20" y1="225.0" x2="329.20" y2="375.4" class="mg"/>
<line x1="341.82" y1="225.0" x2="341.82" y2="375.4" class="mg"/>
<line x1="352.49" y1="225.0" x2="352.49" y2="375.4" class="mg"/>
<line x1="361.73" y1="225.0" x2="361.73" y2="375.4" class="mg"/>
<line x1="369.88" y1="225.0" x2="369.88" y2="375.4" class="mg"/>
<line x1="425.13" y1="225.0" x2="425.13" y2="375.4" class="mg"/>
<line x1="453.19" y1="225.0" x2="453.19" y2="375.4" class="mg"/>
<line x1="473.09" y1="225.0" x2="473.09" y2="375.4" class="mg"/>
<line x1="488.54" y1="225.0" x2="488.54" y2="375.4" class="mg"/>
<line x1="501.15" y1="225.0" x2="501.15" y2="375.4" class="mg"/>
<line x1="511.82" y1="225.0" x2="511.82" y2="375.4" class="mg"/>
<line x1="521.06" y1="225.0" x2="521.06" y2="375.4" class="mg"/>
<line x1="529.21" y1="225.0" x2="529.21" y2="375.4" class="mg"/>
<line x1="58.5" y1="365.58" x2="536.5" y2="365.58" class="mg"/>
<line x1="58.5" y1="355.71" x2="536.5" y2="355.71" class="mg"/>
<line x1="58.5" y1="345.84" x2="536.5" y2="345.84" class="mg"/>
<line x1="58.5" y1="335.97" x2="536.5" y2="335.97" class="mg"/>
<line x1="58.5" y1="316.23" x2="536.5" y2="316.23" class="mg"/>
<line x1="58.5" y1="306.36" x2="536.5" y2="306.36" class="mg"/>
<line x1="58.5" y1="296.49" x2="536.5" y2="296.49" class="mg"/>
<line x1="58.5" y1="286.62" x2="536.5" y2="286.62" class="mg"/>
<line x1="58.5" y1="266.88" x2="536.5" y2="266.88" class="mg"/>
<line x1="58.5" y1="257.01" x2="536.5" y2="257.01" class="mg"/>
<line x1="58.5" y1="247.14" x2="536.5" y2="247.14" class="mg"/>
<line x1="58.5" y1="237.27" x2="536.5" y2="237.27" class="mg"/>
<line x1="217.83" y1="225.0" x2="217.83" y2="375.4" class="gr"/>
<line x1="377.17" y1="225.0" x2="377.17" y2="375.4" class="gr"/>
<line x1="58.5" y1="227.40" x2="536.5" y2="227.40" class="gr"/>
<line x1="58.5" y1="276.75" x2="536.5" y2="276.75" class="gr"/>
<line x1="58.5" y1="326.10" x2="536.5" y2="326.10" class="gr"/>
<rect x="58.5" y="225.0" width="478.0" height="150.39999999999998" fill="none" class="ax"/>
<line x1="106.46" y1="375.4" x2="106.46" y2="372.9" class="ax"/>
<line x1="106.46" y1="225.0" x2="106.46" y2="227.5" class="ax"/>
<line x1="134.52" y1="375.4" x2="134.52" y2="372.9" class="ax"/>
<line x1="134.52" y1="225.0" x2="134.52" y2="227.5" class="ax"/>
<line x1="154.43" y1="375.4" x2="154.43" y2="372.9" class="ax"/>
<line x1="154.43" y1="225.0" x2="154.43" y2="227.5" class="ax"/>
<line x1="169.87" y1="375.4" x2="169.87" y2="372.9" class="ax"/>
<line x1="169.87" y1="225.0" x2="169.87" y2="227.5" class="ax"/>
<line x1="182.49" y1="375.4" x2="182.49" y2="372.9" class="ax"/>
<line x1="182.49" y1="225.0" x2="182.49" y2="227.5" class="ax"/>
<line x1="193.15" y1="375.4" x2="193.15" y2="372.9" class="ax"/>
<line x1="193.15" y1="225.0" x2="193.15" y2="227.5" class="ax"/>
<line x1="202.39" y1="375.4" x2="202.39" y2="372.9" class="ax"/>
<line x1="202.39" y1="225.0" x2="202.39" y2="227.5" class="ax"/>
<line x1="210.54" y1="375.4" x2="210.54" y2="372.9" class="ax"/>
<line x1="210.54" y1="225.0" x2="210.54" y2="227.5" class="ax"/>
<line x1="217.83" y1="375.4" x2="217.83" y2="370.4" class="ax"/>
<line x1="217.83" y1="225.0" x2="217.83" y2="230.0" class="ax"/>
<line x1="265.80" y1="375.4" x2="265.80" y2="372.9" class="ax"/>
<line x1="265.80" y1="225.0" x2="265.80" y2="227.5" class="ax"/>
<line x1="293.85" y1="375.4" x2="293.85" y2="372.9" class="ax"/>
<line x1="293.85" y1="225.0" x2="293.85" y2="227.5" class="ax"/>
<line x1="313.76" y1="375.4" x2="313.76" y2="372.9" class="ax"/>
<line x1="313.76" y1="225.0" x2="313.76" y2="227.5" class="ax"/>
<line x1="329.20" y1="375.4" x2="329.20" y2="372.9" class="ax"/>
<line x1="329.20" y1="225.0" x2="329.20" y2="227.5" class="ax"/>
<line x1="341.82" y1="375.4" x2="341.82" y2="372.9" class="ax"/>
<line x1="341.82" y1="225.0" x2="341.82" y2="227.5" class="ax"/>
<line x1="352.49" y1="375.4" x2="352.49" y2="372.9" class="ax"/>
<line x1="352.49" y1="225.0" x2="352.49" y2="227.5" class="ax"/>
<line x1="361.73" y1="375.4" x2="361.73" y2="372.9" class="ax"/>
<line x1="361.73" y1="225.0" x2="361.73" y2="227.5" class="ax"/>
<line x1="369.88" y1="375.4" x2="369.88" y2="372.9" class="ax"/>
<line x1="369.88" y1="225.0" x2="369.88" y2="227.5" class="ax"/>
<line x1="377.17" y1="375.4" x2="377.17" y2="370.4" class="ax"/>
<line x1="377.17" y1="225.0" x2="377.17" y2="230.0" class="ax"/>
<line x1="425.13" y1="375.4" x2="425.13" y2="372.9" class="ax"/>
<line x1="425.13" y1="225.0" x2="425.13" y2="227.5" class="ax"/>
<line x1="453.19" y1="375.4" x2="453.19" y2="372.9" class="ax"/>
<line x1="453.19" y1="225.0" x2="453.19" y2="227.5" class="ax"/>
<line x1="473.09" y1="375.4" x2="473.09" y2="372.9" class="ax"/>
<line x1="473.09" y1="225.0" x2="473.09" y2="227.5" class="ax"/>
<line x1="488.54" y1="375.4" x2="488.54" y2="372.9" class="ax"/>
<line x1="488.54" y1="225.0" x2="488.54" y2="227.5" class="ax"/>
<line x1="501.15" y1="375.4" x2="501.15" y2="372.9" class="ax"/>
<line x1="501.15" y1="225.0" x2="501.15" y2="227.5" class="ax"/>
<line x1="511.82" y1="375.4" x2="511.82" y2="372.9" class="ax"/>
<line x1="511.82" y1="225.0" x2="511.82" y2="227.5" class="ax"/>
<line x1="521.06" y1="375.4" x2="521.06" y2="372.9" class="ax"/>
<line x1="521.06" y1="225.0" x2="521.06" y2="227.5" class="ax"/>
<line x1="529.21" y1="375.4" x2="529.21" y2="372.9" class="ax"/>
<line x1="529.21" y1="225.0" x2="529.21" y2="227.5" class="ax"/>
<line x1="58.5" y1="227.40" x2="63.5" y2="227.40" class="ax"/>
<line x1="536.5" y1="227.40" x2="531.5" y2="227.40" class="ax"/>
<line x1="58.5" y1="276.75" x2="63.5" y2="276.75" class="ax"/>
<line x1="536.5" y1="276.75" x2="531.5" y2="276.75" class="ax"/>
<line x1="58.5" y1="326.10" x2="63.5" y2="326.10" class="ax"/>
<line x1="536.5" y1="326.10" x2="531.5" y2="326.10" class="ax"/>
<clipPath id="c2"><rect x="57.9" y="224.4" width="479.4" height="151.59999999999997"/></clipPath>
<g clip-path="url(#c2)">
<polyline points="254.35,271.81 536.50,271.81" fill="none" stroke="#0072BD" stroke-width="2.5" stroke-linejoin="round"/>
<polyline points="58.50,227.40 219.74,227.40 219.74,316.23 536.50,316.23" fill="none" stroke="#D94E14" stroke-width="2.5" stroke-linejoin="round"/>
<polyline points="58.50,271.81 254.35,271.81 254.35,360.64 536.50,360.64" fill="none" stroke="#EEAB10" stroke-width="2.5" stroke-linejoin="round"/>
</g>
<text x="52.95" y="13.70" text-anchor="end" font-size="13.0" textLength="20.5" lengthAdjust="spacingAndGlyphs">100</text>
<text x="53.8" y="45.47" text-anchor="end" font-size="13.0">50</text>
<text x="53.8" y="77.25" text-anchor="end" font-size="13.0">0</text>
<text x="53.8" y="109.02" text-anchor="end" font-size="13.0">50</text>
<text x="38.84" y="109.02" text-anchor="end" font-size="13.0">-</text>
<text x="52.95" y="140.80" text-anchor="end" font-size="13.0" textLength="20.5" lengthAdjust="spacingAndGlyphs">100</text>
<text x="31.95" y="140.80" text-anchor="end" font-size="13.0">-</text>
<text x="53.8" y="233.40" text-anchor="end" font-size="13.0">0</text>
<text x="52.95" y="282.75" text-anchor="end" font-size="13.0" textLength="20.5" lengthAdjust="spacingAndGlyphs">100</text>
<text x="31.95" y="282.75" text-anchor="end" font-size="13.0">-</text>
<text x="52.95" y="332.10" text-anchor="end" font-size="13.0">200</text>
<text x="30.77" y="332.10" text-anchor="end" font-size="13.0">-</text>
<text x="52.95" y="381.45" text-anchor="end" font-size="13.0">300</text>
<text x="30.77" y="381.45" text-anchor="end" font-size="13.0">-</text>
<text x="48.70" y="181.7" font-size="12.8" textLength="13.3" lengthAdjust="spacingAndGlyphs">10</text>
<text x="63.40" y="175.40" font-size="10.3">2</text>
<text x="48.70" y="397.7" font-size="12.8" textLength="13.3" lengthAdjust="spacingAndGlyphs">10</text>
<text x="63.40" y="391.40" font-size="10.3">2</text>
<text x="208.03" y="181.7" font-size="12.8" textLength="13.3" lengthAdjust="spacingAndGlyphs">10</text>
<text x="222.73" y="175.40" font-size="10.3">3</text>
<text x="208.03" y="397.7" font-size="12.8" textLength="13.3" lengthAdjust="spacingAndGlyphs">10</text>
<text x="222.73" y="391.40" font-size="10.3">3</text>
<text x="367.37" y="181.7" font-size="12.8" textLength="13.3" lengthAdjust="spacingAndGlyphs">10</text>
<text x="382.07" y="175.40" font-size="10.3">4</text>
<text x="367.37" y="397.7" font-size="12.8" textLength="13.3" lengthAdjust="spacingAndGlyphs">10</text>
<text x="382.07" y="391.40" font-size="10.3">4</text>
<text x="526.70" y="181.7" font-size="12.8" textLength="13.3" lengthAdjust="spacingAndGlyphs">10</text>
<text x="541.40" y="175.40" font-size="10.3">5</text>
<text x="526.70" y="397.7" font-size="12.8" textLength="13.3" lengthAdjust="spacingAndGlyphs">10</text>
<text x="541.40" y="391.40" font-size="10.3">5</text>
<text transform="translate(19.3,84.1) rotate(-90)" text-anchor="middle" font-size="17.6">Magnitude [dB]</text>
<text transform="translate(19.3,300.6) rotate(-90)" text-anchor="middle" font-size="17.6">Phase [deg]</text>
<text x="297.5" y="420.3" text-anchor="middle" font-size="17.6">Frequency [Hz]</text>
<rect x="402.1" y="20.6" width="122.7" height="67.7" fill="#fff" class="ax"/>
<line x1="406.8" y1="32.90" x2="451" y2="32.90" stroke="#0072BD" stroke-width="2.3"/>
<text x="454.4" y="38.70" font-size="16" style="fill:#151515">L-filter</text>
<line x1="406.8" y1="54.30" x2="451" y2="54.30" stroke="#D94E14" stroke-width="2.3"/>
<text x="454.4" y="60.20" font-size="16" style="fill:#151515">LC-filter</text>
<line x1="406.8" y1="75.70" x2="451" y2="75.70" stroke="#EEAB10" stroke-width="2.3"/>
<text x="454.4" y="81.80" font-size="16" style="fill:#151515">LCL-filter</text>
</svg>
</body></html>
